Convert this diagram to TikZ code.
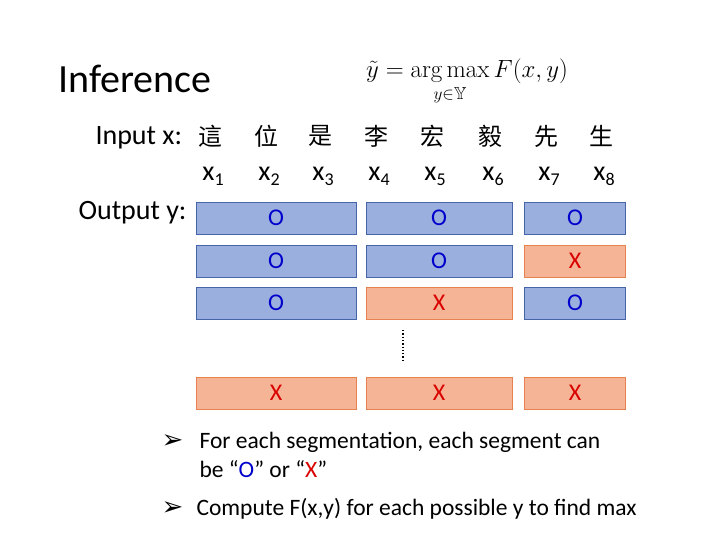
\documentclass[tikz,border=0pt]{standalone}
\usepackage{fontspec}
\usepackage{amsmath,amssymb}
\setmainfont{Carlito}
\newfontfamily\cjk{Noto Sans CJK SC}
\newfontfamily\lmr{Latin Modern Roman}
\definecolor{bfill}{RGB}{155,175,222}
\definecolor{bdraw}{RGB}{70,100,170}
\definecolor{xfill}{RGB}{246,180,150}
\definecolor{xdraw}{RGB}{230,130,80}
\begin{document}
\begin{tikzpicture}[x=1pt,y=-1pt,
 bo/.style={draw=bdraw,fill=bfill,inner sep=0},
 bx/.style={draw=xdraw,fill=xfill,inner sep=0},
 ot/.style={text=blue!80!black,font=\fontsize{24}{24}\selectfont},
 xt/.style={text=red!85!black,font=\fontsize{24}{24}\selectfont},
 lab/.style={font=\fontsize{28}{28}\selectfont,anchor=base west},
 ch/.style={font=\cjk\fontsize{24}{24}\selectfont},
 sub/.style={font=\fontsize{28}{28}\selectfont},
 bl/.style={font=\fontsize{23.5}{23.5}\selectfont,anchor=base west}]
\useasboundingbox (0,0) rectangle (720,540);
\node[lab,font=\fontsize{40}{40}\selectfont] (title) at (55,93) {Inference};
\node (f) at (467,82) {\fontsize{25}{25}\selectfont$\tilde{y}=\mathop{\text{\lmr arg\,max}}\limits_{y\in\mathbb{Y}} F(x,y)$};
\node[lab] (inp) at (92,145) {Input x:};
\node[lab] (outp) at (75,220) {Output y:};
\foreach \c/\xx [count=\i] in {這/210,位/266,是/320,李/376,宏/432,毅/490,先/546,生/601}{
 \node[ch] (c\i) at (\xx,136) {\c};
 \node[sub] (s\i) at (\xx+3,176) {x{\fontsize{18}{18}\selectfont\raisebox{-5pt}{\i}}};
}
\def\row#1#2#3#4#5{%
 \node[#2,minimum width=160,minimum height=32] (a#1) at (276,#5) {};
 \node[#3,minimum width=146,minimum height=32] (b#1) at (439,#5) {};
 \node[#4,minimum width=101,minimum height=32] (d#1) at (575,#5) {};}
\row{1}{bo}{bo}{bo}{218}
\row{2}{bo}{bo}{bx}{261}
\row{3}{bo}{bx}{bo}{303}
\row{4}{bx}{bx}{bx}{393}
\foreach \r/\p/\q/\s in {1/O/O/O,2/O/O/X,3/O/X/O,4/X/X/X}{
 \foreach \n/\v in {a/\p,b/\q,d/\s}{
  \if O\v \node[ot] at (\n\r) {O};\else \node[xt] at (\n\r) {X};\fi
 }}
\coordinate (dt) at (403,330);
\coordinate (db) at (403,362);
\draw[dotted,line width=1.3pt] (dt) -- (db);
\node[bl] (b1) at (158,448) {\fontspec{DejaVu Sans}\fontsize{26}{26}\selectfont➢};
\node[bl] (t1) at (196,448) {For each segmentation, each segment can};
\node[bl] (t2) at (196,477) {be “\textcolor{blue!80!black}{O}” or “\textcolor{red!85!black}{X}”};
\node[bl] (b2) at (158,515) {\fontspec{DejaVu Sans}\fontsize{26}{26}\selectfont➢};
\node[bl] (t3) at (193,515) {Compute F(x,y) for each possible y to find max};
\end{tikzpicture}
\end{document}
